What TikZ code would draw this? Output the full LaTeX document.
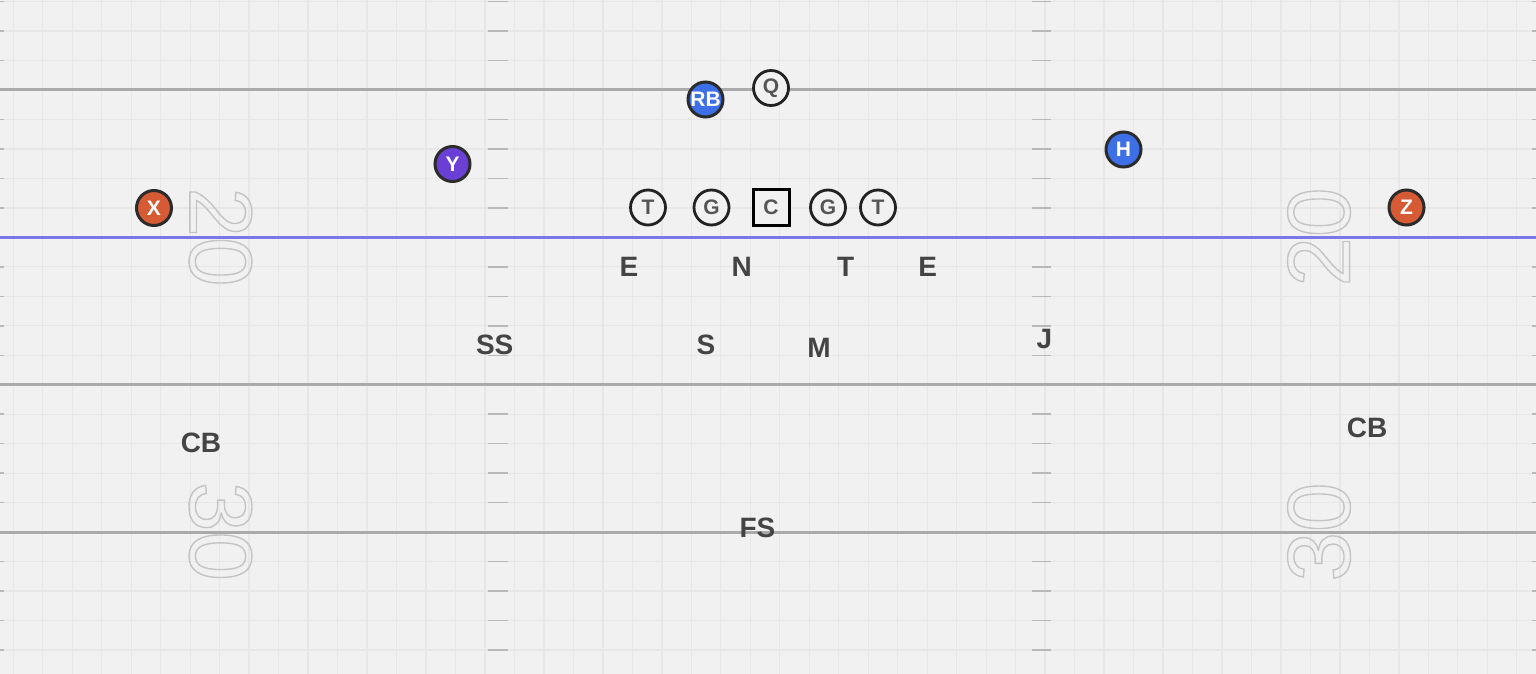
\documentclass[tikz,border=0pt]{standalone}
\usepackage{fontspec}
\setmainfont{Liberation Sans}
\definecolor{bgc}{HTML}{F1F1F1}
\definecolor{gridc}{HTML}{E7E7E7}
\definecolor{hashc}{HTML}{B8B8B8}
\definecolor{thickc}{HTML}{AAAAAA}
\definecolor{losc}{HTML}{7B77E8}
\definecolor{numc}{HTML}{C4C4C4}
\definecolor{strokec}{HTML}{2B2B2B}
\definecolor{olinec}{HTML}{222222}
\definecolor{orangec}{HTML}{D65A34}
\definecolor{purplec}{HTML}{6A40D4}
\definecolor{bluec}{HTML}{3D6FE6}
\definecolor{letterc}{HTML}{555555}
\definecolor{labelc}{HTML}{444444}
\newcommand{\outlinetxt}[1]{\special{pdf:literal direct 1.4 w 1 Tr}#1\special{pdf:literal direct 0 Tr}}
\tikzset{
  gridline/.style={draw=gridc, line width=1.3pt},
  hashline/.style={draw=hashc, line width=1.5pt},
  thickline/.style={draw=thickc, line width=3pt},
  losline/.style={draw=losc, line width=3.5pt},
  yardnum/.style={text=numc, inner sep=0pt, font=\fontsize{89}{89}\selectfont},
  skill/.style={circle, minimum size=35pt, inner sep=0pt, line width=3pt, draw=strokec,
    text=white, font=\bfseries\fontsize{21}{21}\selectfont},
  oline/.style={circle, minimum size=35pt, inner sep=0pt, line width=2.8pt, draw=olinec,
    fill=bgc, text=letterc, font=\bfseries\fontsize{21}{21}\selectfont},
  centerbox/.style={rectangle, minimum size=36pt, inner sep=0pt, line width=3pt, draw=black,
    fill=bgc, text=letterc, font=\bfseries\fontsize{21}{21}\selectfont},
  defender/.style={inner sep=0pt, text=labelc, font=\bfseries\fontsize{28}{28}\selectfont}
}
\begin{document}
\begin{tikzpicture}[x=1pt,y=-1pt]
\useasboundingbox (0,0) rectangle (1536,674);
\fill[bgc] (0,0) rectangle (1536,674);
% grid
\foreach \k in {0,...,51} \draw[gridline] ({13.3+29.48*\k},0) -- ({13.3+29.48*\k},674);
\foreach \k in {0,...,22} \draw[gridline] (0,{1.5+29.48*\k}) -- (1536,{1.5+29.48*\k});
% hash marks
\foreach \k in {0,...,22} {
  \draw[hashline] (0,{1.5+29.48*\k}) -- (4,{1.5+29.48*\k});
  \draw[hashline] (488,{1.5+29.48*\k}) -- (508,{1.5+29.48*\k});
  \draw[hashline] (1032,{1.5+29.48*\k}) -- (1051,{1.5+29.48*\k});
  \draw[hashline] (1532,{1.5+29.48*\k}) -- (1536,{1.5+29.48*\k});
}
% yard numbers
\node[yardnum, rotate=-90] (n20l) at (220.5,237) {\outlinetxt{20}};
\node[yardnum, rotate=-90] (n30l) at (220.5,531.5) {\outlinetxt{30}};
\node[yardnum, rotate=90] (n20r) at (1319,237) {\outlinetxt{20}};
\node[yardnum, rotate=90] (n30r) at (1319,532) {\outlinetxt{30}};
% yard lines
\draw[thickline] (0,89.9) -- (1536,89.9);
\draw[thickline] (0,384.7) -- (1536,384.7);
\draw[thickline] (0,532.1) -- (1536,532.1);
\draw[losline] (0,237.3) -- (1536,237.3);
% offense
\node[skill, fill=orangec] (X) at (154,208) {X};
\node[skill, fill=orangec] (Z) at (1406.5,207.5) {Z};
\node[skill, fill=purplec] (Y) at (452.5,164) {Y};
\node[skill, fill=bluec] (H) at (1123.5,149.5) {H};
\node[skill, fill=bluec] (RB) at (705.5,99.5) {RB};
\node[oline] (Q) at (771,88) {Q};
\node[oline] (LT) at (648,207.5) {T};
\node[oline] (LG) at (711.5,207.5) {G};
\node[centerbox] (C) at (771,207.5) {C};
\node[oline] (RG) at (828,207.5) {G};
\node[oline] (RT) at (878,207.5) {T};
% defense
\node[defender] (DE1) at (629,266.5) {E};
\node[defender] (DN) at (741.7,266.7) {N};
\node[defender] (DT) at (845.7,266.5) {T};
\node[defender] (DE2) at (927.7,266.5) {E};
\node[defender] (SS) at (494.7,344.7) {SS};
\node[defender] (S) at (706,344.5) {S};
\node[defender] (M) at (819,348) {M};
\node[defender] (J) at (1044.5,339.5) {J};
\node[defender] (CBL) at (201,443) {CB};
\node[defender] (CBR) at (1367,427.5) {CB};
\node[defender] (FS) at (757.5,527.7) {FS};
\end{tikzpicture}
\end{document}
